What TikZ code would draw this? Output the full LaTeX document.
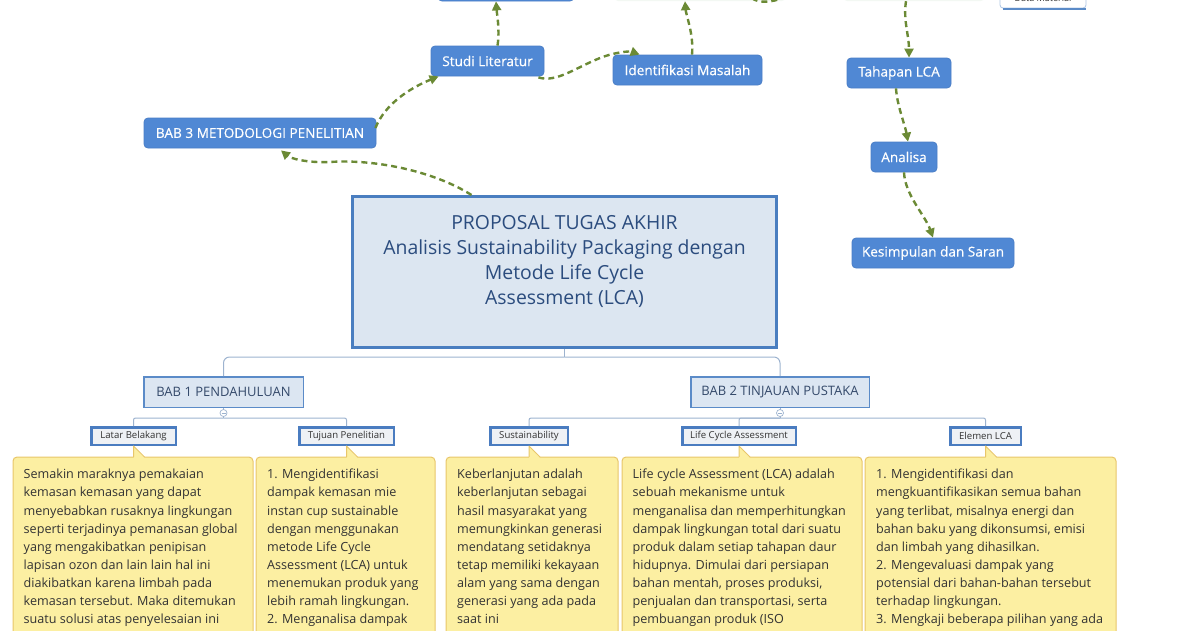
\documentclass[tikz,border=0pt]{standalone}
\usepackage{fontspec}
\setmainfont{Open Sans}
\newfontfamily\semibfont[FakeBold=0.4]{Open Sans}
\usetikzlibrary{arrows.meta}
\definecolor{nodeblue}{HTML}{5088D4}
\definecolor{nodeblueborder}{HTML}{4A7EC6}
\definecolor{mainfill}{HTML}{DCE6F1}
\definecolor{mainborder}{HTML}{4A7EC0}
\definecolor{titleblue}{HTML}{2B4C7E}
\definecolor{babfill}{HTML}{DCE6F2}
\definecolor{babborder}{HTML}{5B8BC8}
\definecolor{babtext}{HTML}{34496A}
\definecolor{labfill}{HTML}{EEF1F5}
\definecolor{labborder}{HTML}{4A7CC0}
\definecolor{notefill}{HTML}{FCEFA2}
\definecolor{noteborder}{HTML}{E8C66A}
\definecolor{notetextc}{HTML}{333333}
\definecolor{connc}{HTML}{9DB3CF}
\definecolor{arrowc}{HTML}{6B8A35}
\definecolor{faintc}{HTML}{F3F8F3}
\newcommand\notebox[3]{%
  \path[fill=notefill, draw=noteborder, line width=1, rounded corners=4]
    (#1,700) -- (#1,457) -- (#2,457) -- (#2,700);
  \fill[notefill] (#3.south) -- ([yshift=-11.8pt]#3.south) -- ([xshift=11pt,yshift=-11.8pt]#3.south) -- cycle;
  \draw[noteborder, line width=1, line join=round] ([yshift=-11pt]#3.south) -- (#3.south) -- ([xshift=11pt,yshift=-11pt]#3.south);
}
\begin{document}
\begin{tikzpicture}[x=1pt,y=-1pt,
  bluebox/.style={fill=nodeblue, draw=nodeblueborder, line width=0.8, rounded corners=4,
    text=white, font=\semibfont\fontsize{13.6}{15}\selectfont, inner sep=0, minimum height=30},
  faintbox/.style={fill=faintc, draw=none, rounded corners=4, inner sep=0, minimum height=30},
  mainbox/.style={fill=mainfill, draw=mainborder, line width=3, text=titleblue, align=center,
    inner sep=0, minimum width=424, minimum height=151, font=\fontsize{19.4}{25}\selectfont},
  babbox/.style={fill=babfill, draw=babborder, line width=1.5, text=babtext, inner sep=0,
    minimum height=30.5, font=\fontsize{13}{15}\selectfont},
  labbox/.style={fill=labfill, draw=labborder, line width=2.5, text=notetextc, inner sep=0,
    minimum height=17.5, font=\fontsize{9.6}{11}\selectfont},
  notetext/.style={anchor=north west, inner sep=0, align=left, text=notetextc,
    font=\fontsize{12.6}{18.1}\selectfont},
  conn/.style={draw=connc, line width=1},
  dasharrow/.style={draw=arrowc, line width=2.4, dash pattern=on 6pt off 4pt,
    -{Triangle[length=9pt,width=9pt]}},
  collapse/.style={circle, draw=connc, fill=white, line width=0.7, minimum size=7, inner sep=0,
    path picture={\draw[connc, line width=0.7] ([xshift=-2pt]path picture bounding box.center) -- ([xshift=2pt]path picture bounding box.center);}}
]
\useasboundingbox (0,0) rectangle (1200,630);

% ---- top nodes (partially outside) ----
\node[bluebox, minimum width=136] (top1) at (506,-14) {};
\node[faintbox, minimum width=172] (faint1) at (700,-14) {};
\node[faintbox, minimum width=142] (faint2) at (914,-14) {};
\node[fill=white, draw=babborder!50, line width=0.8, rounded corners=3, inner sep=0,
  minimum width=86, minimum height=20, text=notetextc, font=\fontsize{9}{11}\selectfont]
  (datamat) at (1043,-2) {Data Material};
\draw[babborder, line width=1.8] ([xshift=3pt,yshift=-0.5pt]datamat.south west) -- ([yshift=-0.5pt]datamat.south east);

% ---- blue method nodes ----
\node[bluebox, minimum width=113] (studi) at (487.5,61) {Studi Literatur};
\node[bluebox, minimum width=232] (bab3) at (260,133) {BAB 3 METODOLOGI PENELITIAN};
\node[bluebox, minimum width=149] (ident) at (687.5,70) {Identifikasi Masalah};
\node[bluebox, minimum width=104] (tahap) at (899,73) {Tahapan LCA};
\node[bluebox, minimum width=66] (analisa) at (904,157) {Analisa};
\node[bluebox, minimum width=162] (kesimp) at (933,253) {Kesimpulan dan Saran};

% ---- main box ----
\node[mainbox] (main) at (564.5,272) {PROPOSAL TUGAS AKHIR\\Analisis Sustainability Packaging dengan\\Metode Life Cycle\\Assessment (LCA)\\\mbox{}};

% ---- BAB nodes ----
\node[babbox, minimum width=159.5] (bab1) at (223.5,392) {BAB 1 PENDAHULUAN};
\node[babbox, minimum width=178.5] (bab2) at (780,392) {BAB 2 TINJAUAN PUSTAKA};

% ---- label nodes ----
\node[labbox, minimum width=84.5] (latar) at (133.5,436) {Latar Belakang};
\node[labbox, minimum width=94.5] (tujuan) at (346.5,436) {Tujuan Penelitian};
\node[labbox, minimum width=77.5] (sust) at (529,436) {Sustainability};
\node[labbox, minimum width=113.5] (lcal) at (739,436) {Life Cycle Assessment};
\node[labbox, minimum width=70.5] (elemen) at (985.5,436) {Elemen LCA};

% ---- tree connectors ----
\draw[conn] (main.south) -- ++(0,8);
\draw[conn, rounded corners=6] (bab1.north) |- ([yshift=-8pt]main.south);
\draw[conn, rounded corners=6] (bab2.north) |- ([yshift=-8pt]main.south);
\draw[conn] (bab1.south) -- ++(0,10);
\draw[conn, rounded corners=2] (latar.north) |- ([yshift=-10pt]bab1.south);
\draw[conn, rounded corners=2] (tujuan.north) |- ([yshift=-10pt]bab1.south);
\draw[conn] (bab2.south) -- ++(0,10);
\draw[conn, rounded corners=2] (sust.north) |- ([yshift=-10pt]bab2.south);
\draw[conn, rounded corners=2] (lcal.north) |- ([yshift=-10pt]bab2.south);
\draw[conn, rounded corners=2] (elemen.north) |- ([yshift=-10pt]bab2.south);
\node[collapse] (k1) at ([yshift=-5pt]bab1.south) {};
\node[collapse] (k2) at ([yshift=-5pt]bab2.south) {};

% ---- dashed arrows ----
\draw[dasharrow] ([xshift=-93pt]main.north) .. controls (432,170) and (372,159) .. (330,162)
  .. controls (305,163) and (290,158) .. ([xshift=21pt,yshift=-2pt]bab3.south);
\draw[dasharrow] ([xshift=-1pt,yshift=5pt]bab3.east) .. controls (385,104) and (410,88) .. ([xshift=8pt]studi.south west);
\draw[dasharrow] ([xshift=10pt]studi.north) .. controls (500,30) and (497,15) .. ([xshift=-10pt]top1.south);
\draw[dasharrow] ([xshift=-6pt,yshift=-1pt]studi.south east) .. controls (556,83) and (575,68) .. (600,58)
  .. controls (615,52) and (630,51) .. ([xshift=27pt]ident.north west);
\draw[dasharrow] ([xshift=4.5pt]ident.north) .. controls (694,35) and (686,15) .. ([xshift=-15pt]faint1.south);
\draw[draw=arrowc, line width=2.4, dash pattern=on 6pt off 4pt] ([xshift=52pt,yshift=3pt]faint1.south) .. controls (758,3) and (772,3) .. ([xshift=84pt,yshift=4pt]faint1.south);
\draw[dasharrow] ([xshift=-8pt]faint2.south) .. controls (903,20) and (909,35) .. ([xshift=10pt]tahap.north);
\draw[dasharrow] ([xshift=-3pt]tahap.south) .. controls (897,105) and (905,125) .. ([xshift=4pt]analisa.north);
\draw[dasharrow] (analisa.south) .. controls (905,195) and (925,215) .. (kesimp.north);

% ---- notes ----
\notebox{13}{253}{latar}
\notebox{256}{435}{tujuan}
\notebox{446}{618}{sust}
\notebox{622}{862}{lcal}
\notebox{865}{1116}{elemen}

\node[notetext] (t1) at (23.5,466) {\strut Semakin maraknya pemakaian\\kemasan kemasan yang dapat\\menyebabkan rusaknya lingkungan\\seperti terjadinya pemanasan global\\yang mengakibatkan penipisan\\lapisan ozon dan lain lain hal ini\\diakibatkan karena limbah pada\\kemasan tersebut. Maka ditemukan\\suatu solusi atas penyelesaian ini};
\node[notetext] (t2) at (267,466) {\strut 1. Mengidentifikasi\\dampak kemasan mie\\instan cup sustainable\\dengan menggunakan\\metode Life Cycle\\Assessment (LCA) untuk\\menemukan produk yang\\lebih ramah lingkungan.\\2. Menganalisa dampak};
\node[notetext] (t3) at (457,466) {\strut Keberlanjutan adalah\\keberlanjutan sebagai\\hasil masyarakat yang\\memungkinkan generasi\\mendatang setidaknya\\tetap memiliki kekayaan\\alam yang sama dengan\\generasi yang ada pada\\saat ini};
\node[notetext] (t4) at (632.5,466) {\strut Life cycle Assessment (LCA) adalah\\sebuah mekanisme untuk\\menganalisa dan memperhitungkan\\dampak lingkungan total dari suatu\\produk dalam setiap tahapan daur\\hidupnya. Dimulai dari persiapan\\bahan mentah, proses produksi,\\penjualan dan transportasi, serta\\pembuangan produk (ISO};
\node[notetext] (t5) at (876,466) {\strut 1. Mengidentifikasi dan\\mengkuantifikasikan semua bahan\\yang terlibat, misalnya energi dan\\bahan baku yang dikonsumsi, emisi\\dan limbah yang dihasilkan.\\2. Mengevaluasi dampak yang\\potensial dari bahan-bahan tersebut\\terhadap lingkungan.\\3. Mengkaji beberapa pilihan yang ada};
\end{tikzpicture}
\end{document}
